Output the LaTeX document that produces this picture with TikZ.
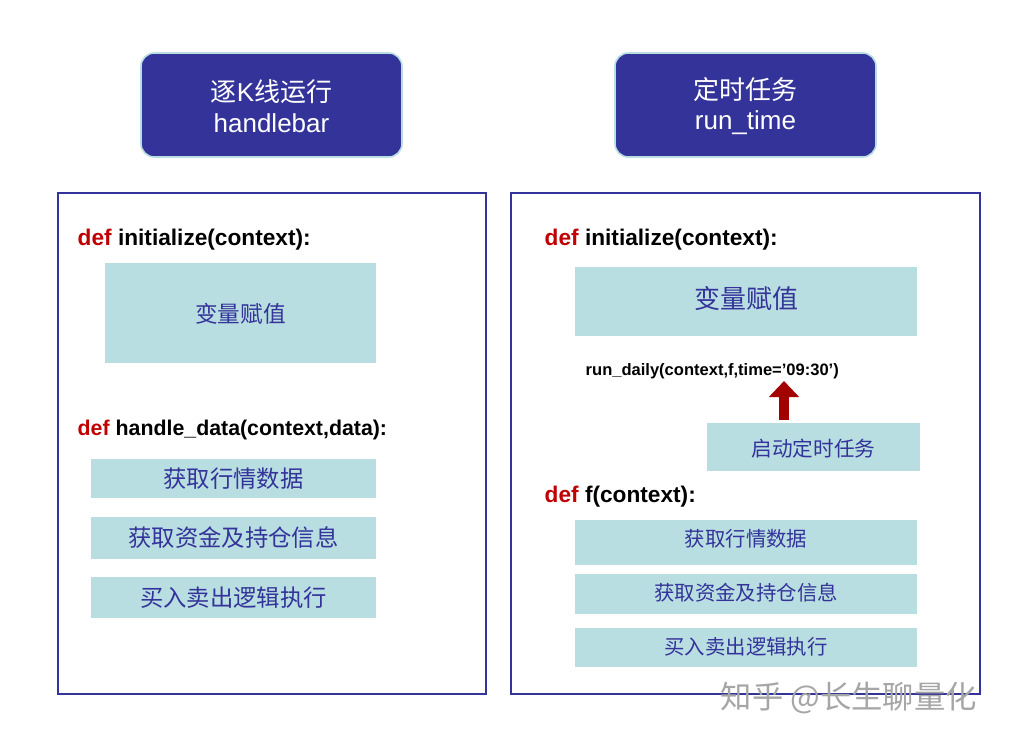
\documentclass[tikz,border=0pt]{standalone}
\usepackage{fontspec}
\setmainfont{Liberation Sans}
\newfontfamily\cjk{Noto Sans CJK SC}
\usetikzlibrary{arrows.meta}
\definecolor{navy}{HTML}{333399}
\definecolor{hdr}{HTML}{343399}
\definecolor{lbox}{HTML}{B9DEE2}
\definecolor{dred}{HTML}{C00000}
\tikzset{
 hdrbox/.style={draw=lbox,line width=1.2pt,fill=hdr,rounded corners=10pt},
 panel/.style={draw=navy,line width=1.5pt},
 cbox/.style={fill=lbox,text=navy,font=\cjk\fontsize{17.5}{20}\selectfont},
 code/.style={anchor=west,font=\bfseries\fontsize{17}{20}\selectfont},
}
\begin{document}
\begin{tikzpicture}[x=0.75pt,y=-0.75pt]
\useasboundingbox (0,0) rectangle (1028,742);
\fill[white] (0,0) rectangle (1028,742);
% headers
\draw[hdrbox] (141,53) rectangle (402,157);
\node[text=white,align=center,font=\fontsize{19.5}{23}\selectfont] (h1) at (271.5,106) {{\cjk 逐}K{\cjk 线运行}\\handlebar};
\draw[hdrbox] (615,53) rectangle (876,157);
\node[text=white,align=center,font=\fontsize{19.5}{23}\selectfont] (h2) at (745.5,106) {{\cjk 定时任务}\\run\_time};
% panels
\draw[panel] (58,193) rectangle (486,694);
\draw[panel] (511,193) rectangle (980,694);
% left content
\node[code] (l1) at (73,240) {\textcolor{dred}{def} initialize(context):};
\fill[lbox] (105,263) rectangle (376,363);
\node[cbox,font=\cjk\fontsize{17}{20}\selectfont] (lb1) at (240.5,314) {变量赋值};
\node[code,font=\bfseries\fontsize{16}{19}\selectfont] (l2) at (73,430) {\textcolor{dred}{def} handle\_data(context,data):};
\fill[lbox] (91,459) rectangle (376,498);
\node[cbox] (lb2) at (233.5,479) {获取行情数据};
\fill[lbox] (91,517) rectangle (376,559);
\node[cbox] (lb3) at (233.5,538) {获取资金及持仓信息};
\fill[lbox] (91,577) rectangle (376,618);
\node[cbox] (lb4) at (233.5,598) {买入卖出逻辑执行};
% right content
\node[code] (r1) at (540,240) {\textcolor{dred}{def} initialize(context):};
\fill[lbox] (575,267) rectangle (917,336);
\node[cbox,font=\cjk\fontsize{19.5}{22}\selectfont] (rb1) at (746,299) {变量赋值};
\node[code,font=\bfseries\fontsize{12.4}{15}\selectfont] (rd) at (581,371) {run\_daily(context,f,time=’09:30’)};
\fill[lbox] (707,423) rectangle (920,471);
\node[cbox,font=\cjk\fontsize{15.5}{18}\selectfont] (rs) at (813.5,449) {启动定时任务};
\coordinate (ab) at (784,420);
\coordinate (at) at (784,381);
\draw[-{Triangle[width=22pt,length=12pt]},line width=8pt,draw=dred!85!black] (ab) -- (at);
\node[code] (r2) at (540,497) {\textcolor{dred}{def} f(context):};
\fill[lbox] (575,520) rectangle (917,565);
\node[cbox,font=\cjk\fontsize{15.3}{18}\selectfont] (rb2) at (746,539) {获取行情数据};
\fill[lbox] (575,574) rectangle (917,614);
\node[cbox,font=\cjk\fontsize{15.3}{18}\selectfont] (rb3) at (746,593) {获取资金及持仓信息};
\fill[lbox] (575,628) rectangle (917,667);
\node[cbox,font=\cjk\fontsize{15.3}{18}\selectfont] (rb4) at (746,647) {买入卖出逻辑执行};
% watermark
\node[text=gray!70,font=\cjk\fontsize{23.5}{26}\selectfont,anchor=west] (wm) at (716,698) {知乎 @长生聊量化};
\end{tikzpicture}
\end{document}
